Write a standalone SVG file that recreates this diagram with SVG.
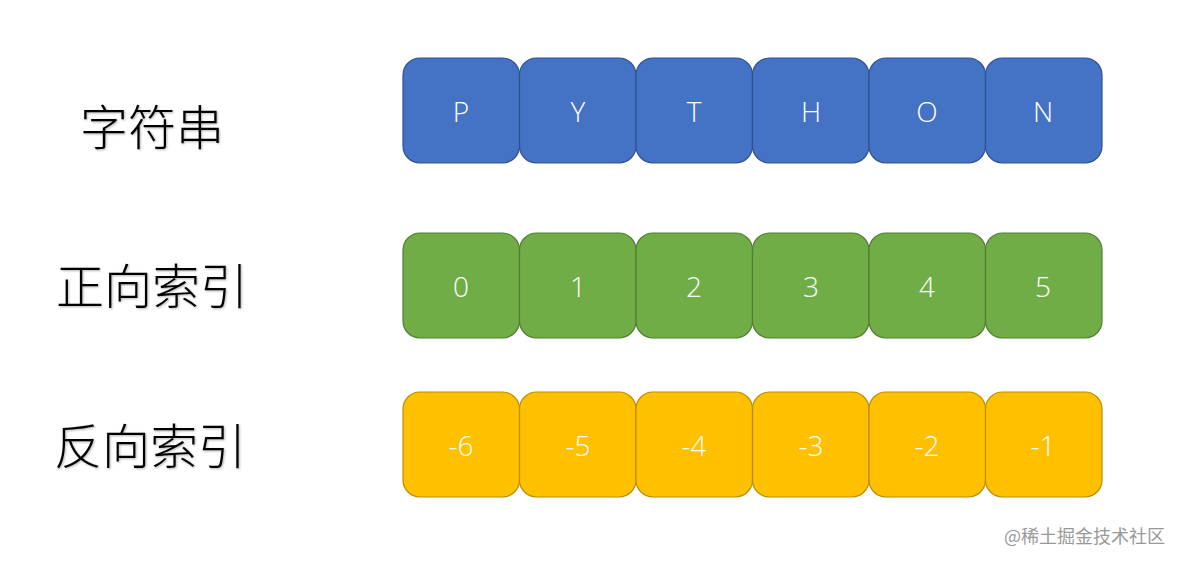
<svg xmlns="http://www.w3.org/2000/svg" width="1182" height="564" viewBox="0 0 1182 564">
<style>
.b{stroke-width:1.2}
.blue{fill:#4472C4;stroke:#2F528F}
.green{fill:#70AD47;stroke:#507E32}
.yellow{fill:#FFC000;stroke:#BC8C00}
.t{font-family:"Open Sans","Liberation Sans",sans-serif;font-size:28px;font-weight:300;fill:#fff;text-anchor:middle;dominant-baseline:central}
.cn{font-family:"Noto Sans CJK SC",sans-serif;font-size:48px;font-weight:300;fill:#000;text-anchor:middle}
.wm{font-family:"Noto Sans CJK SC",sans-serif;font-size:18px;fill:#999;text-anchor:start}
</style>
<defs>
<filter id="sh" x="-10%" y="-10%" width="130%" height="130%"><feDropShadow dx="1" dy="1" stdDeviation="1" flood-color="#000" flood-opacity="0.3"/></filter>
</defs>
<rect width="1182" height="564" fill="#fff"/>
<g id="labels" filter="url(#sh)">
<text class="cn" x="152" y="145">字符串</text>
<text class="cn" x="152" y="304">正向索引</text>
<text class="cn" x="150" y="464">反向索引</text>
</g>
<g id="row-string">
<g id="s0"><rect class="b blue" x="403" y="58" width="116.5" height="105" rx="17"/><text class="t" x="461" y="111">P</text></g>
<g id="s1"><rect class="b blue" x="519.5" y="58" width="116.5" height="105" rx="17"/><text class="t" x="578" y="111">Y</text></g>
<g id="s2"><rect class="b blue" x="636" y="58" width="116.5" height="105" rx="17"/><text class="t" x="694" y="111">T</text></g>
<g id="s3"><rect class="b blue" x="752.5" y="58" width="116.5" height="105" rx="17"/><text class="t" x="811" y="111">H</text></g>
<g id="s4"><rect class="b blue" x="869" y="58" width="116.5" height="105" rx="17"/><text class="t" x="927" y="111">O</text></g>
<g id="s5"><rect class="b blue" x="985.5" y="58" width="116.5" height="105" rx="17"/><text class="t" x="1043" y="111">N</text></g>
</g>
<g id="row-forward">
<g id="f0"><rect class="b green" x="403" y="233" width="116.5" height="105" rx="17"/><text class="t" x="461" y="286">0</text></g>
<g id="f1"><rect class="b green" x="519.5" y="233" width="116.5" height="105" rx="17"/><text class="t" x="578" y="286">1</text></g>
<g id="f2"><rect class="b green" x="636" y="233" width="116.5" height="105" rx="17"/><text class="t" x="694" y="286">2</text></g>
<g id="f3"><rect class="b green" x="752.5" y="233" width="116.5" height="105" rx="17"/><text class="t" x="811" y="286">3</text></g>
<g id="f4"><rect class="b green" x="869" y="233" width="116.5" height="105" rx="17"/><text class="t" x="927" y="286">4</text></g>
<g id="f5"><rect class="b green" x="985.5" y="233" width="116.5" height="105" rx="17"/><text class="t" x="1043" y="286">5</text></g>
</g>
<g id="row-backward">
<g id="r0"><rect class="b yellow" x="403" y="392" width="116.5" height="105" rx="17"/><text class="t" x="461" y="445">-6</text></g>
<g id="r1"><rect class="b yellow" x="519.5" y="392" width="116.5" height="105" rx="17"/><text class="t" x="578" y="445">-5</text></g>
<g id="r2"><rect class="b yellow" x="636" y="392" width="116.5" height="105" rx="17"/><text class="t" x="694" y="445">-4</text></g>
<g id="r3"><rect class="b yellow" x="752.5" y="392" width="116.5" height="105" rx="17"/><text class="t" x="811" y="445">-3</text></g>
<g id="r4"><rect class="b yellow" x="869" y="392" width="116.5" height="105" rx="17"/><text class="t" x="927" y="445">-2</text></g>
<g id="r5"><rect class="b yellow" x="985.5" y="392" width="116.5" height="105" rx="17"/><text class="t" x="1043" y="445">-1</text></g>
</g>
<g id="connectors"></g>
<text class="wm" x="1004" y="543">@稀土掘金技术社区</text>
</svg>
